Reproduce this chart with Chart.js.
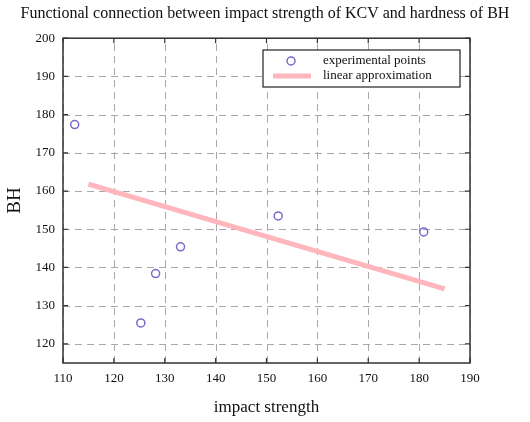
<!DOCTYPE html>
<html>
<head>
<meta charset="utf-8">
<script src="https://cdn.jsdelivr.net/npm/chart.js@4/dist/chart.umd.min.js"></script>
<style>
  html, body { margin: 0; padding: 0; background: #fff; }
  #wrap { width: 530px; height: 422px; }
</style>
</head>
<body>
<div id="wrap"><canvas id="chart"></canvas></div>
<script>
const impactStrength = [112.3, 125.3, 128.2, 133.1, 152.3, 180.9];
const hardnessBH = [177.4, 125.5, 138.4, 145.4, 153.5, 149.3];
// linear approximation, ends of the fitted line
const fitX = [115, 185];
const fitY = [161.8, 134.4];

const serif = '"Liberation Serif", "Times New Roman", serif';

// dashed grid under the data
const gridPlugin = {
    id: 'dashGrid',
    beforeDatasetsDraw(chart) {
        const ctx = chart.ctx;
        const a = chart.chartArea;
        const xs = chart.scales.x, ys = chart.scales.y;
        ctx.save();
        ctx.strokeStyle = '#a8a8a8';
        ctx.lineWidth = 1;
        ctx.setLineDash([7, 5]);
        ctx.beginPath();
        xs.ticks.forEach(t => {
            const px = Math.round(xs.getPixelForValue(t.value)) + 0.5;
            ctx.moveTo(px, a.bottom); ctx.lineTo(px, a.top);
        });
        ys.ticks.forEach(t => {
            const py = Math.round(ys.getPixelForValue(t.value)) + 0.5;
            ctx.moveTo(a.left, py); ctx.lineTo(a.right, py);
        });
        ctx.stroke();
        ctx.restore();
    }
};

// frame + inward tick marks on all four sides, plus the boxed legend
const framePlugin = {
    id: 'frame',
    afterDraw(chart) {
        const ctx = chart.ctx;
        const a = chart.chartArea;
        const xs = chart.scales.x, ys = chart.scales.y;
        ctx.save();
        ctx.strokeStyle = '#333';
        ctx.lineWidth = 1.5;
        ctx.strokeRect(a.left, a.top, a.right - a.left, a.bottom - a.top);
        ctx.lineWidth = 1.2;
        const len = 5;
        ctx.beginPath();
        xs.ticks.forEach(t => {
            const px = xs.getPixelForValue(t.value);
            ctx.moveTo(px, a.bottom); ctx.lineTo(px, a.bottom - len);
            ctx.moveTo(px, a.top); ctx.lineTo(px, a.top + len);
        });
        ys.ticks.forEach(t => {
            const py = ys.getPixelForValue(t.value);
            ctx.moveTo(a.left, py); ctx.lineTo(a.left + len, py);
            ctx.moveTo(a.right, py); ctx.lineTo(a.right - len, py);
        });
        ctx.stroke();

        // legend
        const lx = 263, ly = 50, lw = 197, lh = 37;
        ctx.fillStyle = '#fff';
        ctx.fillRect(lx, ly, lw, lh);
        ctx.strokeStyle = '#222';
        ctx.lineWidth = 1.2;
        ctx.strokeRect(lx, ly, lw, lh);
        const ds = chart.data.datasets;
        ctx.beginPath();
        ctx.strokeStyle = ds[0].borderColor;
        ctx.lineWidth = 1.5;
        ctx.arc(lx + 28, ly + 11, 4, 0, Math.PI * 2);
        ctx.stroke();
        ctx.beginPath();
        ctx.strokeStyle = ds[1].borderColor;
        ctx.lineWidth = ds[1].borderWidth;
        ctx.moveTo(lx + 10, ly + 26);
        ctx.lineTo(lx + 48, ly + 26);
        ctx.stroke();
        ctx.fillStyle = '#111';
        ctx.font = '13px ' + serif;
        ctx.textBaseline = 'middle';
        ctx.textAlign = 'left';
        ctx.fillText(ds[0].label, lx + 60, ly + 11);
        ctx.fillText(ds[1].label, lx + 60, ly + 26);
        ctx.restore();
    }
};

new Chart(document.getElementById('chart'), {
    type: 'scatter',
    data: {
        datasets: [{
            label: 'experimental points',
            data: impactStrength.map((x, i) => ({ x: x, y: hardnessBH[i] })),
            pointStyle: 'circle',
            pointRadius: 4,
            pointBorderWidth: 1.5,
            borderColor: '#7a68cc',
            backgroundColor: 'rgba(0,0,0,0)',
            order: 1
        }, {
            label: 'linear approximation',
            data: fitX.map((x, i) => ({ x: x, y: fitY[i] })),
            showLine: true,
            pointRadius: 0,
            borderColor: '#ffb6bd',
            borderWidth: 5,
            order: 2
        }]
    },
    options: {
        responsive: true,
        maintainAspectRatio: false,
        animation: false,
        layout: { padding: 0 },
        plugins: {
            legend: { display: false },
            tooltip: { enabled: false },
            title: {
                display: true,
                text: 'Functional connection between impact strength of KCV and hardness of BH',
                color: '#111',
                font: { family: serif, size: 16, weight: 'normal' },
                padding: { top: 4, bottom: 15 }
            }
        },
        scales: {
            x: {
                type: 'linear',
                min: 110,
                max: 190,
                ticks: {
                    stepSize: 10,
                    color: '#111',
                    font: { family: serif, size: 13 },
                    padding: 8,
                    maxRotation: 0
                },
                grid: { display: false, drawTicks: false },
                border: { display: false },
                title: {
                    display: true,
                    text: 'impact strength',
                    color: '#111',
                    font: { family: serif, size: 17 },
                    padding: { top: 12 }
                },
                afterFit(scale) { scale.height = 59; }
            },
            y: {
                type: 'linear',
                min: 115,
                max: 200,
                ticks: {
                    stepSize: 10,
                    includeBounds: false,
                    color: '#111',
                    font: { family: serif, size: 13 },
                    padding: 8
                },
                grid: { display: false, drawTicks: false },
                border: { display: false },
                title: {
                    display: true,
                    text: 'BH',
                    color: '#111',
                    font: { family: serif, size: 19 },
                    padding: { bottom: 4 }
                },
                afterFit(scale) { scale.width = 63; }
            },
            // empty right-hand axis that only reserves the margin
            yRight: {
                type: 'linear',
                position: 'right',
                display: true,
                min: 115,
                max: 200,
                ticks: { display: false },
                grid: { display: false, drawTicks: false },
                border: { display: false },
                afterFit(scale) { scale.width = 60; }
            }
        }
    },
    plugins: [gridPlugin, framePlugin]
});
</script>
</body>
</html>
